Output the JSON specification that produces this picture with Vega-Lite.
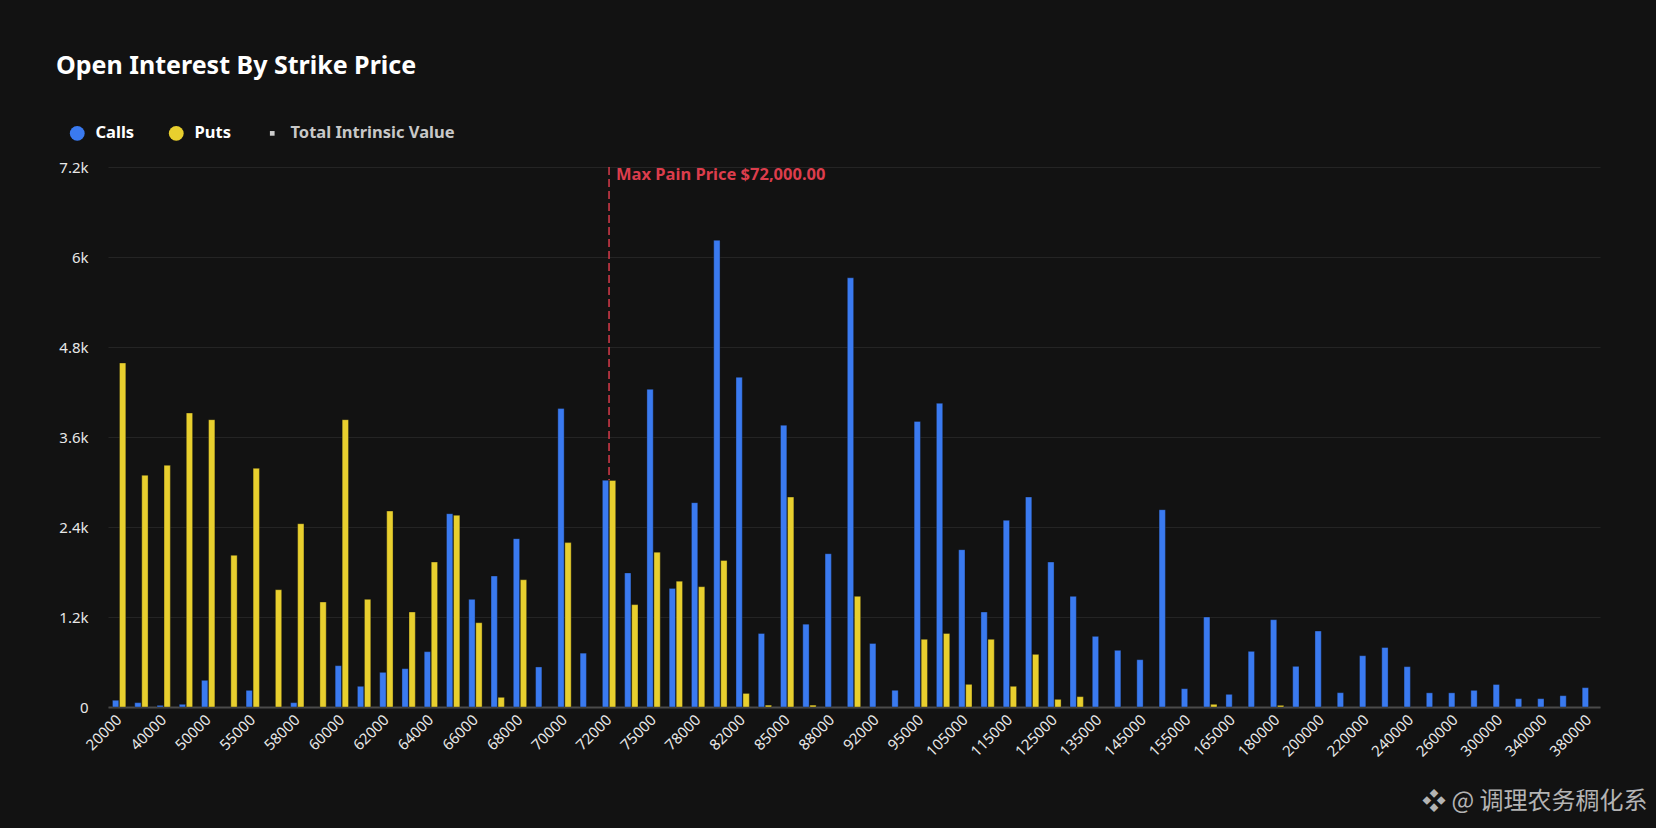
{
  "$schema": "https://vega.github.io/schema/vega-lite/v6.json",
  "width": 1492,
  "height": 540,
  "autosize": {"type": "none"},
  "padding": {"left": 108, "top": 167, "right": 56, "bottom": 121},
  "background": "#121212",
  "config": {
    "view": {"stroke": null},
    "font": "Noto Sans",
    "axis": {"labelFont": "Noto Sans"},
    "legend": {"labelFont": "Noto Sans"}
  },
  "title": {
    "text": "Open Interest By Strike Price",
    "anchor": "start",
    "frame": "group",
    "orient": "top",
    "dx": -52,
    "offset": 26,
    "baseline": "alphabetic",
    "fontSize": 25,
    "fontWeight": "bold",
    "color": "#ffffff",
    "font": "Noto Sans"
  },
  "datasets": {
    "oi": [
      {"strike": "20000", "type": "Calls", "value": 90}, {"strike": "20000", "type": "Puts", "value": 4587},
      {"strike": "30000", "type": "Calls", "value": 58}, {"strike": "30000", "type": "Puts", "value": 3089},
      {"strike": "40000", "type": "Calls", "value": 22}, {"strike": "40000", "type": "Puts", "value": 3222},
      {"strike": "45000", "type": "Calls", "value": 36}, {"strike": "45000", "type": "Puts", "value": 3920},
      {"strike": "50000", "type": "Calls", "value": 356}, {"strike": "50000", "type": "Puts", "value": 3831},
      {"strike": "52000", "type": "Puts", "value": 2022},
      {"strike": "55000", "type": "Calls", "value": 222}, {"strike": "55000", "type": "Puts", "value": 3182},
      {"strike": "56000", "type": "Puts", "value": 1564},
      {"strike": "58000", "type": "Calls", "value": 58}, {"strike": "58000", "type": "Puts", "value": 2444},
      {"strike": "59000", "type": "Puts", "value": 1400},
      {"strike": "60000", "type": "Calls", "value": 551}, {"strike": "60000", "type": "Puts", "value": 3831},
      {"strike": "61000", "type": "Calls", "value": 276}, {"strike": "61000", "type": "Puts", "value": 1436},
      {"strike": "62000", "type": "Calls", "value": 462}, {"strike": "62000", "type": "Puts", "value": 2613},
      {"strike": "63000", "type": "Calls", "value": 511}, {"strike": "63000", "type": "Puts", "value": 1267},
      {"strike": "64000", "type": "Calls", "value": 738}, {"strike": "64000", "type": "Puts", "value": 1933},
      {"strike": "65000", "type": "Calls", "value": 2578}, {"strike": "65000", "type": "Puts", "value": 2556},
      {"strike": "66000", "type": "Calls", "value": 1436}, {"strike": "66000", "type": "Puts", "value": 1124},
      {"strike": "67000", "type": "Calls", "value": 1747}, {"strike": "67000", "type": "Puts", "value": 129},
      {"strike": "68000", "type": "Calls", "value": 2245}, {"strike": "68000", "type": "Puts", "value": 1697},
      {"strike": "69000", "type": "Calls", "value": 534},
      {"strike": "70000", "type": "Calls", "value": 3979}, {"strike": "70000", "type": "Puts", "value": 2192},
      {"strike": "71000", "type": "Calls", "value": 718},
      {"strike": "72000", "type": "Calls", "value": 3023}, {"strike": "72000", "type": "Puts", "value": 3020},
      {"strike": "74000", "type": "Calls", "value": 1788}, {"strike": "74000", "type": "Puts", "value": 1365},
      {"strike": "75000", "type": "Calls", "value": 4236}, {"strike": "75000", "type": "Puts", "value": 2064},
      {"strike": "76000", "type": "Calls", "value": 1581}, {"strike": "76000", "type": "Puts", "value": 1677},
      {"strike": "78000", "type": "Calls", "value": 2725}, {"strike": "78000", "type": "Puts", "value": 1604},
      {"strike": "80000", "type": "Calls", "value": 6223}, {"strike": "80000", "type": "Puts", "value": 1953},
      {"strike": "82000", "type": "Calls", "value": 4396}, {"strike": "82000", "type": "Puts", "value": 181},
      {"strike": "84000", "type": "Calls", "value": 980}, {"strike": "84000", "type": "Puts", "value": 25},
      {"strike": "85000", "type": "Calls", "value": 3757}, {"strike": "85000", "type": "Puts", "value": 2799},
      {"strike": "86000", "type": "Calls", "value": 1104}, {"strike": "86000", "type": "Puts", "value": 25},
      {"strike": "88000", "type": "Calls", "value": 2044},
      {"strike": "90000", "type": "Calls", "value": 5723}, {"strike": "90000", "type": "Puts", "value": 1476},
      {"strike": "92000", "type": "Calls", "value": 847},
      {"strike": "94000", "type": "Calls", "value": 223},
      {"strike": "95000", "type": "Calls", "value": 3808}, {"strike": "95000", "type": "Puts", "value": 903},
      {"strike": "100000", "type": "Calls", "value": 4050}, {"strike": "100000", "type": "Puts", "value": 980},
      {"strike": "105000", "type": "Calls", "value": 2098}, {"strike": "105000", "type": "Puts", "value": 302},
      {"strike": "110000", "type": "Calls", "value": 1267}, {"strike": "110000", "type": "Puts", "value": 903},
      {"strike": "115000", "type": "Calls", "value": 2489}, {"strike": "115000", "type": "Puts", "value": 276},
      {"strike": "120000", "type": "Calls", "value": 2800}, {"strike": "120000", "type": "Puts", "value": 702},
      {"strike": "125000", "type": "Calls", "value": 1933}, {"strike": "125000", "type": "Puts", "value": 102},
      {"strike": "130000", "type": "Calls", "value": 1476}, {"strike": "130000", "type": "Puts", "value": 138},
      {"strike": "135000", "type": "Calls", "value": 942},
      {"strike": "140000", "type": "Calls", "value": 756},
      {"strike": "145000", "type": "Calls", "value": 631},
      {"strike": "150000", "type": "Calls", "value": 2631},
      {"strike": "155000", "type": "Calls", "value": 244},
      {"strike": "160000", "type": "Calls", "value": 1200}, {"strike": "160000", "type": "Puts", "value": 36},
      {"strike": "165000", "type": "Calls", "value": 169},
      {"strike": "170000", "type": "Calls", "value": 742},
      {"strike": "180000", "type": "Calls", "value": 1164}, {"strike": "180000", "type": "Puts", "value": 22},
      {"strike": "190000", "type": "Calls", "value": 542},
      {"strike": "200000", "type": "Calls", "value": 1013},
      {"strike": "210000", "type": "Calls", "value": 191},
      {"strike": "220000", "type": "Calls", "value": 684},
      {"strike": "230000", "type": "Calls", "value": 793},
      {"strike": "240000", "type": "Calls", "value": 538},
      {"strike": "250000", "type": "Calls", "value": 189},
      {"strike": "260000", "type": "Calls", "value": 189},
      {"strike": "280000", "type": "Calls", "value": 222},
      {"strike": "300000", "type": "Calls", "value": 300},
      {"strike": "320000", "type": "Calls", "value": 111},
      {"strike": "340000", "type": "Calls", "value": 111},
      {"strike": "360000", "type": "Calls", "value": 151},
      {"strike": "380000", "type": "Calls", "value": 258}
    ],
    "maxpain": [
      {"strike": "72000", "value": 7200, "value2": 3023, "label": "Max Pain Price $72,000.00"}
    ]
  },
  "encoding": {
    "x": {
      "field": "strike",
      "type": "nominal",
      "scale": {
        "domain": ["20000","30000","40000","45000","50000","52000","55000","56000","58000","59000","60000","61000","62000","63000","64000","65000","66000","67000","68000","69000","70000","71000","72000","74000","75000","76000","78000","80000","82000","84000","85000","86000","88000","90000","92000","94000","95000","100000","105000","110000","115000","120000","125000","130000","135000","140000","145000","150000","155000","160000","165000","170000","180000","190000","200000","210000","220000","230000","240000","250000","260000","280000","300000","320000","340000","360000","380000"],
        "paddingInner": 0.4,
        "paddingOuter": 0.2
      },
      "axis": {
        "values": ["20000","40000","50000","55000","58000","60000","62000","64000","66000","68000","70000","72000","75000","78000","82000","85000","88000","92000","95000","105000","115000","125000","135000","145000","155000","165000","180000","200000","220000","240000","260000","300000","340000","380000"],
        "labelAngle": -45,
        "labelAlign": "right",
        "labelBaseline": "middle",
        "labelFontSize": 15,
        "labelColor": "#e8e8e8",
        "labelPadding": 10,
        "ticks": false,
        "grid": false,
        "domainColor": "#4a4a4a",
        "domainWidth": 2,
        "title": "❖ @ 调理农务稠化系",
        "titleFont": "Noto Sans CJK SC",
        "titleFontSize": 24,
        "titleFontWeight": "normal",
        "titleColor": "#b4b4b4",
        "titleAnchor": "end",
        "titleAlign": "right",
        "titleBaseline": "alphabetic",
        "titleX": 1539,
        "titleY": 101
      }
    },
    "y": {
      "field": "value",
      "type": "quantitative",
      "scale": {"domain": [0, 7200], "nice": false, "zero": true},
      "axis": {
        "values": [0, 1200, 2400, 3600, 4800, 6000, 7200],
        "format": ".2~s",
        "title": null,
        "domain": false,
        "ticks": false,
        "grid": true,
        "gridColor": "#242424",
        "gridWidth": 1,
        "labelFontSize": 15,
        "labelColor": "#e8e8e8",
        "labelPadding": 20
      }
    }
  },
  "layer": [
    {
      "data": {"name": "maxpain"},
      "mark": {"type": "rule", "color": "#d63a4a", "strokeWidth": 1.5, "strokeDash": [8, 4]},
      "encoding": {"y2": {"field": "value2"}}
    },
    {
      "data": {"name": "oi"},
      "mark": {"type": "bar", "stroke": "#121212", "strokeWidth": 0.6, "strokeOpacity": 0.6},
      "encoding": {
        "xOffset": {"field": "type", "type": "nominal", "scale": {"domain": ["Calls", "Puts"], "paddingInner": 0.1}},
        "color": {
          "field": "type",
          "type": "nominal",
          "scale": {"domain": ["Calls", "Puts", "Total Intrinsic Value"], "range": ["#3a7af0", "#e8cf2e", "#cccccc"]},
          "legend": {
            "orient": "none",
            "legendX": -39,
            "legendY": -42,
            "direction": "horizontal",
            "title": null,
            "symbolType": {"expr": "datum.value === 'Total Intrinsic Value' ? 'square' : 'circle'"},
            "symbolSize": {"expr": "datum.value === 'Total Intrinsic Value' ? 22 : 220"},
            "symbolStrokeWidth": 0,
            "labelFontSize": 16.5,
            "labelFontWeight": "bold",
            "labelLimit": 400,
            "labelColor": {"expr": "datum.value === 'Total Intrinsic Value' ? '#c8c8c8' : '#ffffff'"},
            "labelOffset": 10,
            "columnPadding": 33
          }
        }
      }
    },
    {
      "data": {"name": "maxpain"},
      "mark": {"type": "text", "align": "left", "baseline": "middle", "dx": 7, "dy": 8, "fontSize": 16.5, "fontWeight": "bold", "color": "#dc3d4c", "font": "Noto Sans"},
      "encoding": {"text": {"field": "label"}}
    }
  ]
}
